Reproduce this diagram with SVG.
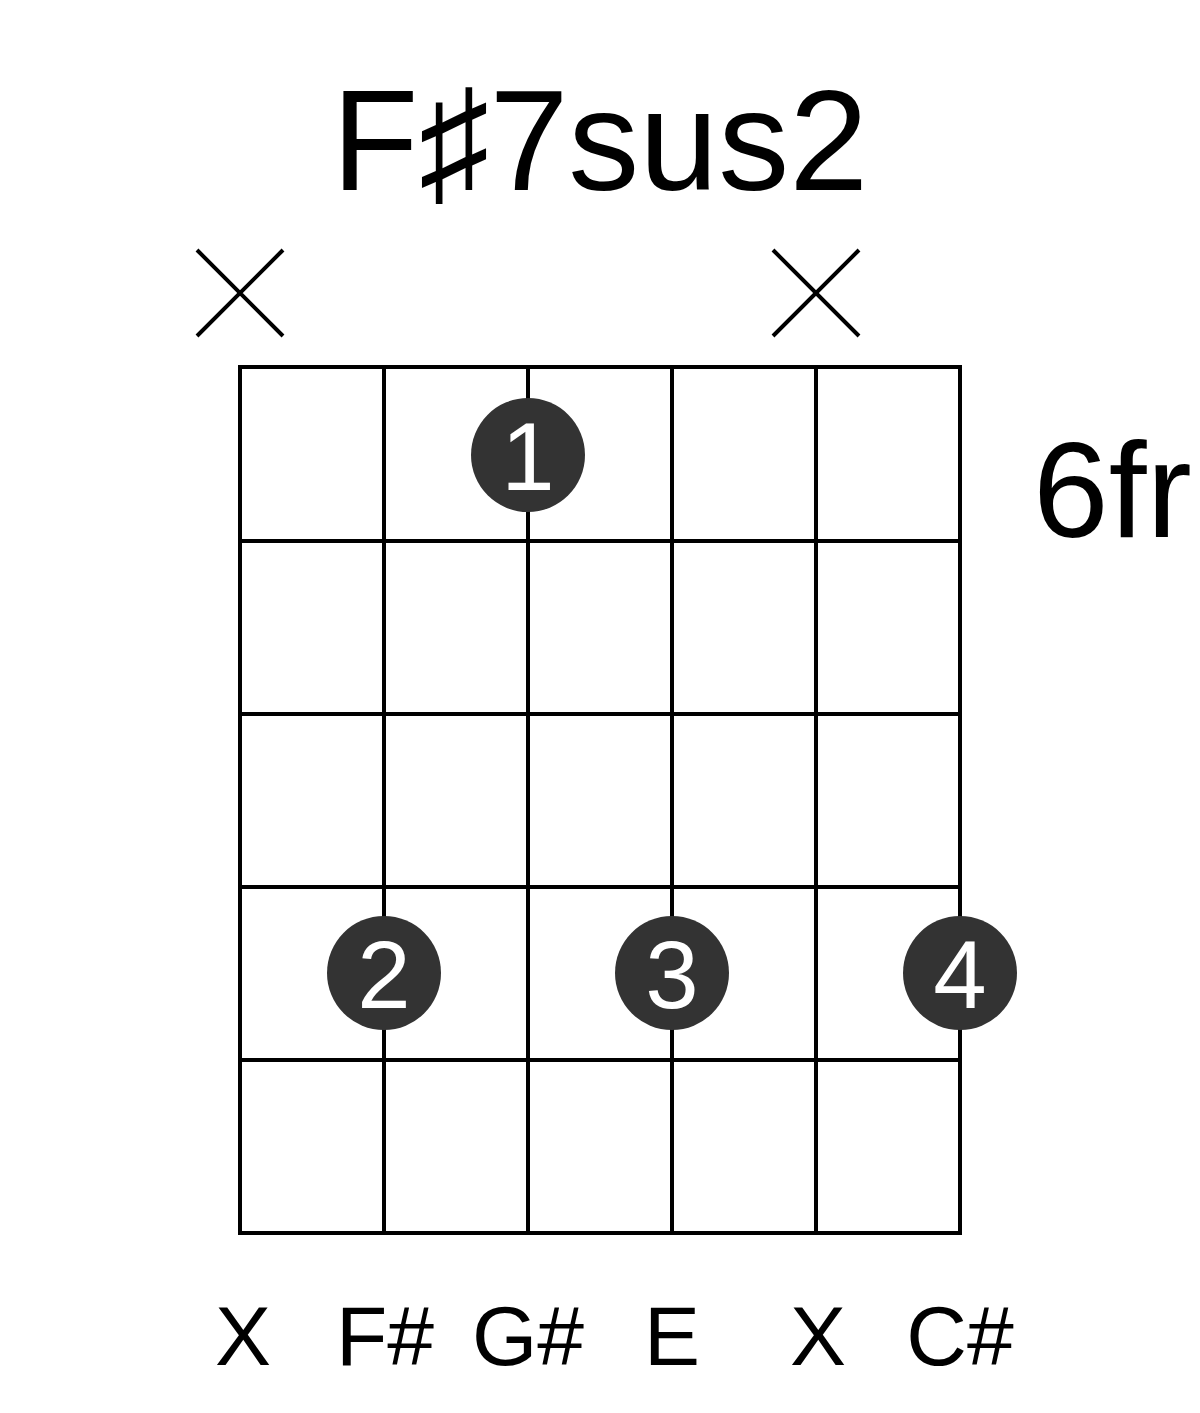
<svg xmlns="http://www.w3.org/2000/svg" width="1200" height="1413" viewBox="0 0 1200 1413">
<style>
.t{font-family:"Liberation Sans",Arial,sans-serif;fill:#000}
.g{stroke:#000;stroke-width:4;fill:none}
.x{stroke:#000;stroke-width:4;fill:none}
.dot{fill:#333}
.n{font-family:"Liberation Sans",Arial,sans-serif;fill:#fff;font-size:96px;text-anchor:middle}
.lb{font-family:"Liberation Sans",Arial,sans-serif;fill:#000;font-size:84px;text-anchor:middle}
</style>
<rect width="1200" height="1413" fill="#fff"/>
<g id="title"><text class="t" x="600" y="190" font-size="142" text-anchor="middle">F♯7sus2</text></g>
<g id="mutes">
<path class="x" d="M197 250L283 336M283 250L197 336"/>
<path class="x" d="M773 250L859 336M859 250L773 336"/>
</g>
<g id="grid">
<rect class="g" x="240" y="367" width="720" height="866"/>
<path class="g" d="M384 367V1233M528 367V1233M672 367V1233M816 367V1233M240 541H960M240 714H960M240 887H960M240 1060H960"/>
</g>
<g id="fret-label"><text class="t" x="1033" y="537" font-size="136">6fr</text></g>
<g id="dot1"><circle class="dot" cx="528" cy="455" r="57"/><text class="n" x="528" y="490">1</text></g>
<g id="dot2"><circle class="dot" cx="384" cy="973" r="57"/><text class="n" x="384" y="1008">2</text></g>
<g id="dot3"><circle class="dot" cx="672" cy="973" r="57"/><text class="n" x="672" y="1008">3</text></g>
<g id="dot4"><circle class="dot" cx="960" cy="973" r="57"/><text class="n" x="960" y="1008">4</text></g>
<g id="notes">
<text class="lb" x="243" y="1365">X</text>
<text class="lb" x="385" y="1365">F#</text>
<text class="lb" x="528" y="1365">G#</text>
<text class="lb" x="672" y="1365">E</text>
<text class="lb" x="818" y="1365">X</text>
<text class="lb" x="960" y="1365">C#</text>
</g>
<g id="connectors"/>
</svg>
